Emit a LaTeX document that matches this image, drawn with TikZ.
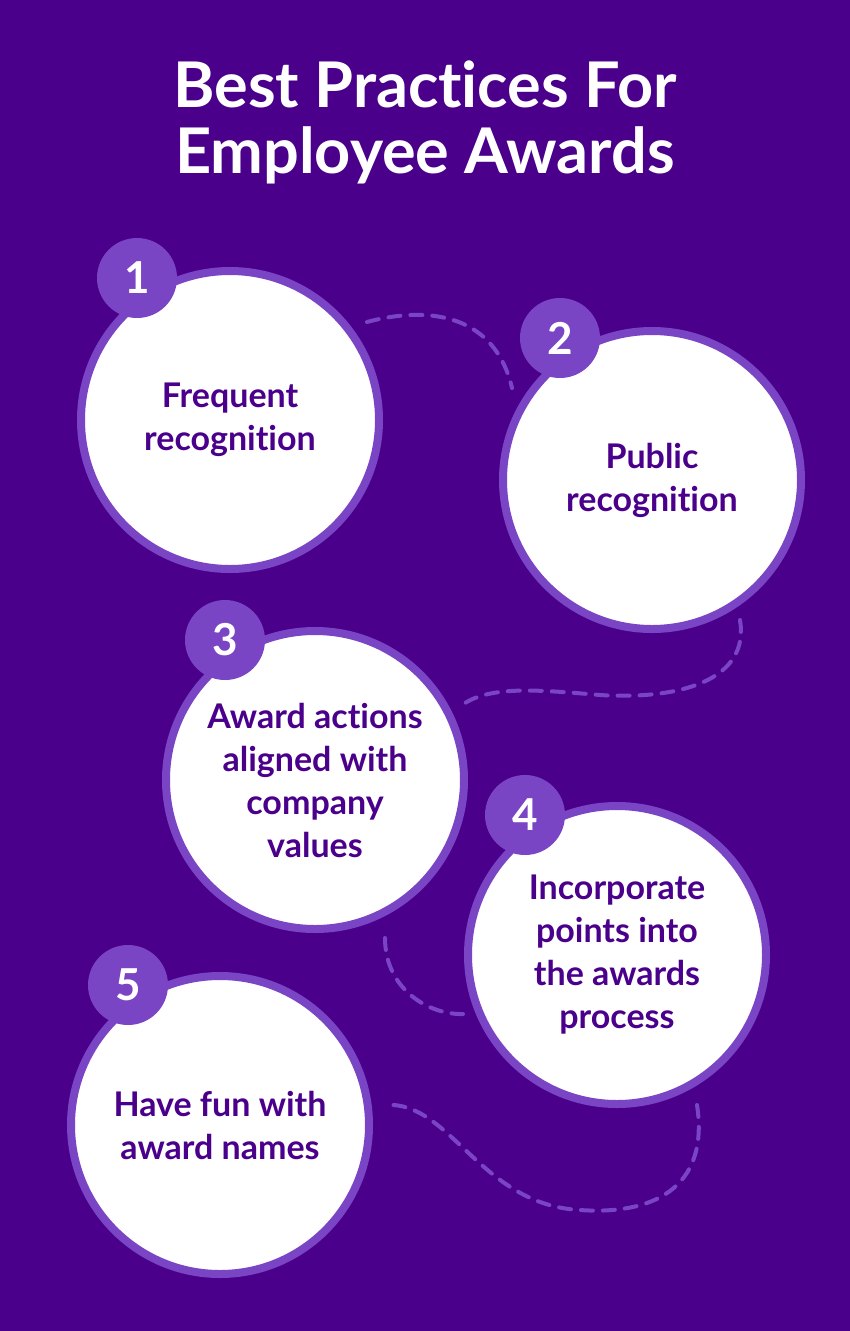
\documentclass[tikz,border=0pt]{standalone}
\usepackage{fontspec}
\setmainfont{Lato}[Ligatures=NoCommon]
\usetikzlibrary{positioning}
\definecolor{bgpurple}{HTML}{4B008C}
\definecolor{ringpurple}{HTML}{7A45C4}
\tikzset{
step circle/.style={circle,draw=ringpurple,line width=8pt,fill=white,minimum size=298pt,inner sep=0pt,
  align=center,text=bgpurple,font=\fontsize{34}{43}\selectfont\bfseries},
badge/.style={circle,fill=ringpurple,minimum size=80pt,inner sep=0pt,text=white,font=\fontsize{44}{44}\selectfont\bfseries},
trail/.style={draw=ringpurple,line width=4pt,dash pattern=on 12pt off 10pt,line cap=round}
}
\begin{document}
\begin{tikzpicture}[x=1pt,y=-1pt]
\fill[bgpurple] (0,0) rectangle (850,1331);
\useasboundingbox (0,0) rectangle (850,1331);

% Title
\node (title) at (425,122) [align=center,text=white,font=\fontsize{63}{66}\selectfont\bfseries] {Best Practices For\\Employee Awards};

% Trails
\coordinate (t1a) at (367,322);
\coordinate (t1b) at (512,388);
\coordinate (t2a) at (740,620);
\coordinate (t2b) at (462,705);
\coordinate (t3a) at (385,938);
\coordinate (t3b) at (463,1014);
\coordinate (t4a) at (697,1105);
\coordinate (t4b) at (385,1105);
\draw[trail] (t1a) .. controls (430,305) and (495,315) .. (t1b);
\draw[trail] (t2a) .. controls (750,680) and (680,700) .. (600,695) .. controls (540,690) and (490,685) .. (t2b);
\draw[trail] (t3a) .. controls (385,990) and (430,1015) .. (t3b);
\draw[trail] (t4a) .. controls (710,1190) and (650,1215) .. (580,1210) .. controls (480,1205) and (450,1100) .. (t4b);

% Steps
\node[step circle] (s1) at (230,420) {Frequent\\recognition};
\node[step circle] (s2) at (652,480) {Public\\recognition};
\node[step circle] (s3) at (315,780) {Award actions\\aligned with\\company\\values};
\node[step circle] (s4) at (617,955) {Incorporate\\points into\\the awards\\process};
\node[step circle] (s5) at (220,1125) {Have fun with\\award names};

% Badges
\node[badge] (b1) at (137,278) {1};
\node[badge] (b2) at (560,338) {2};
\node[badge] (b3) at (225,640) {3};
\node[badge] (b4) at (525,815) {4};
\node[badge] (b5) at (128,985) {5};
\end{tikzpicture}
\end{document}
